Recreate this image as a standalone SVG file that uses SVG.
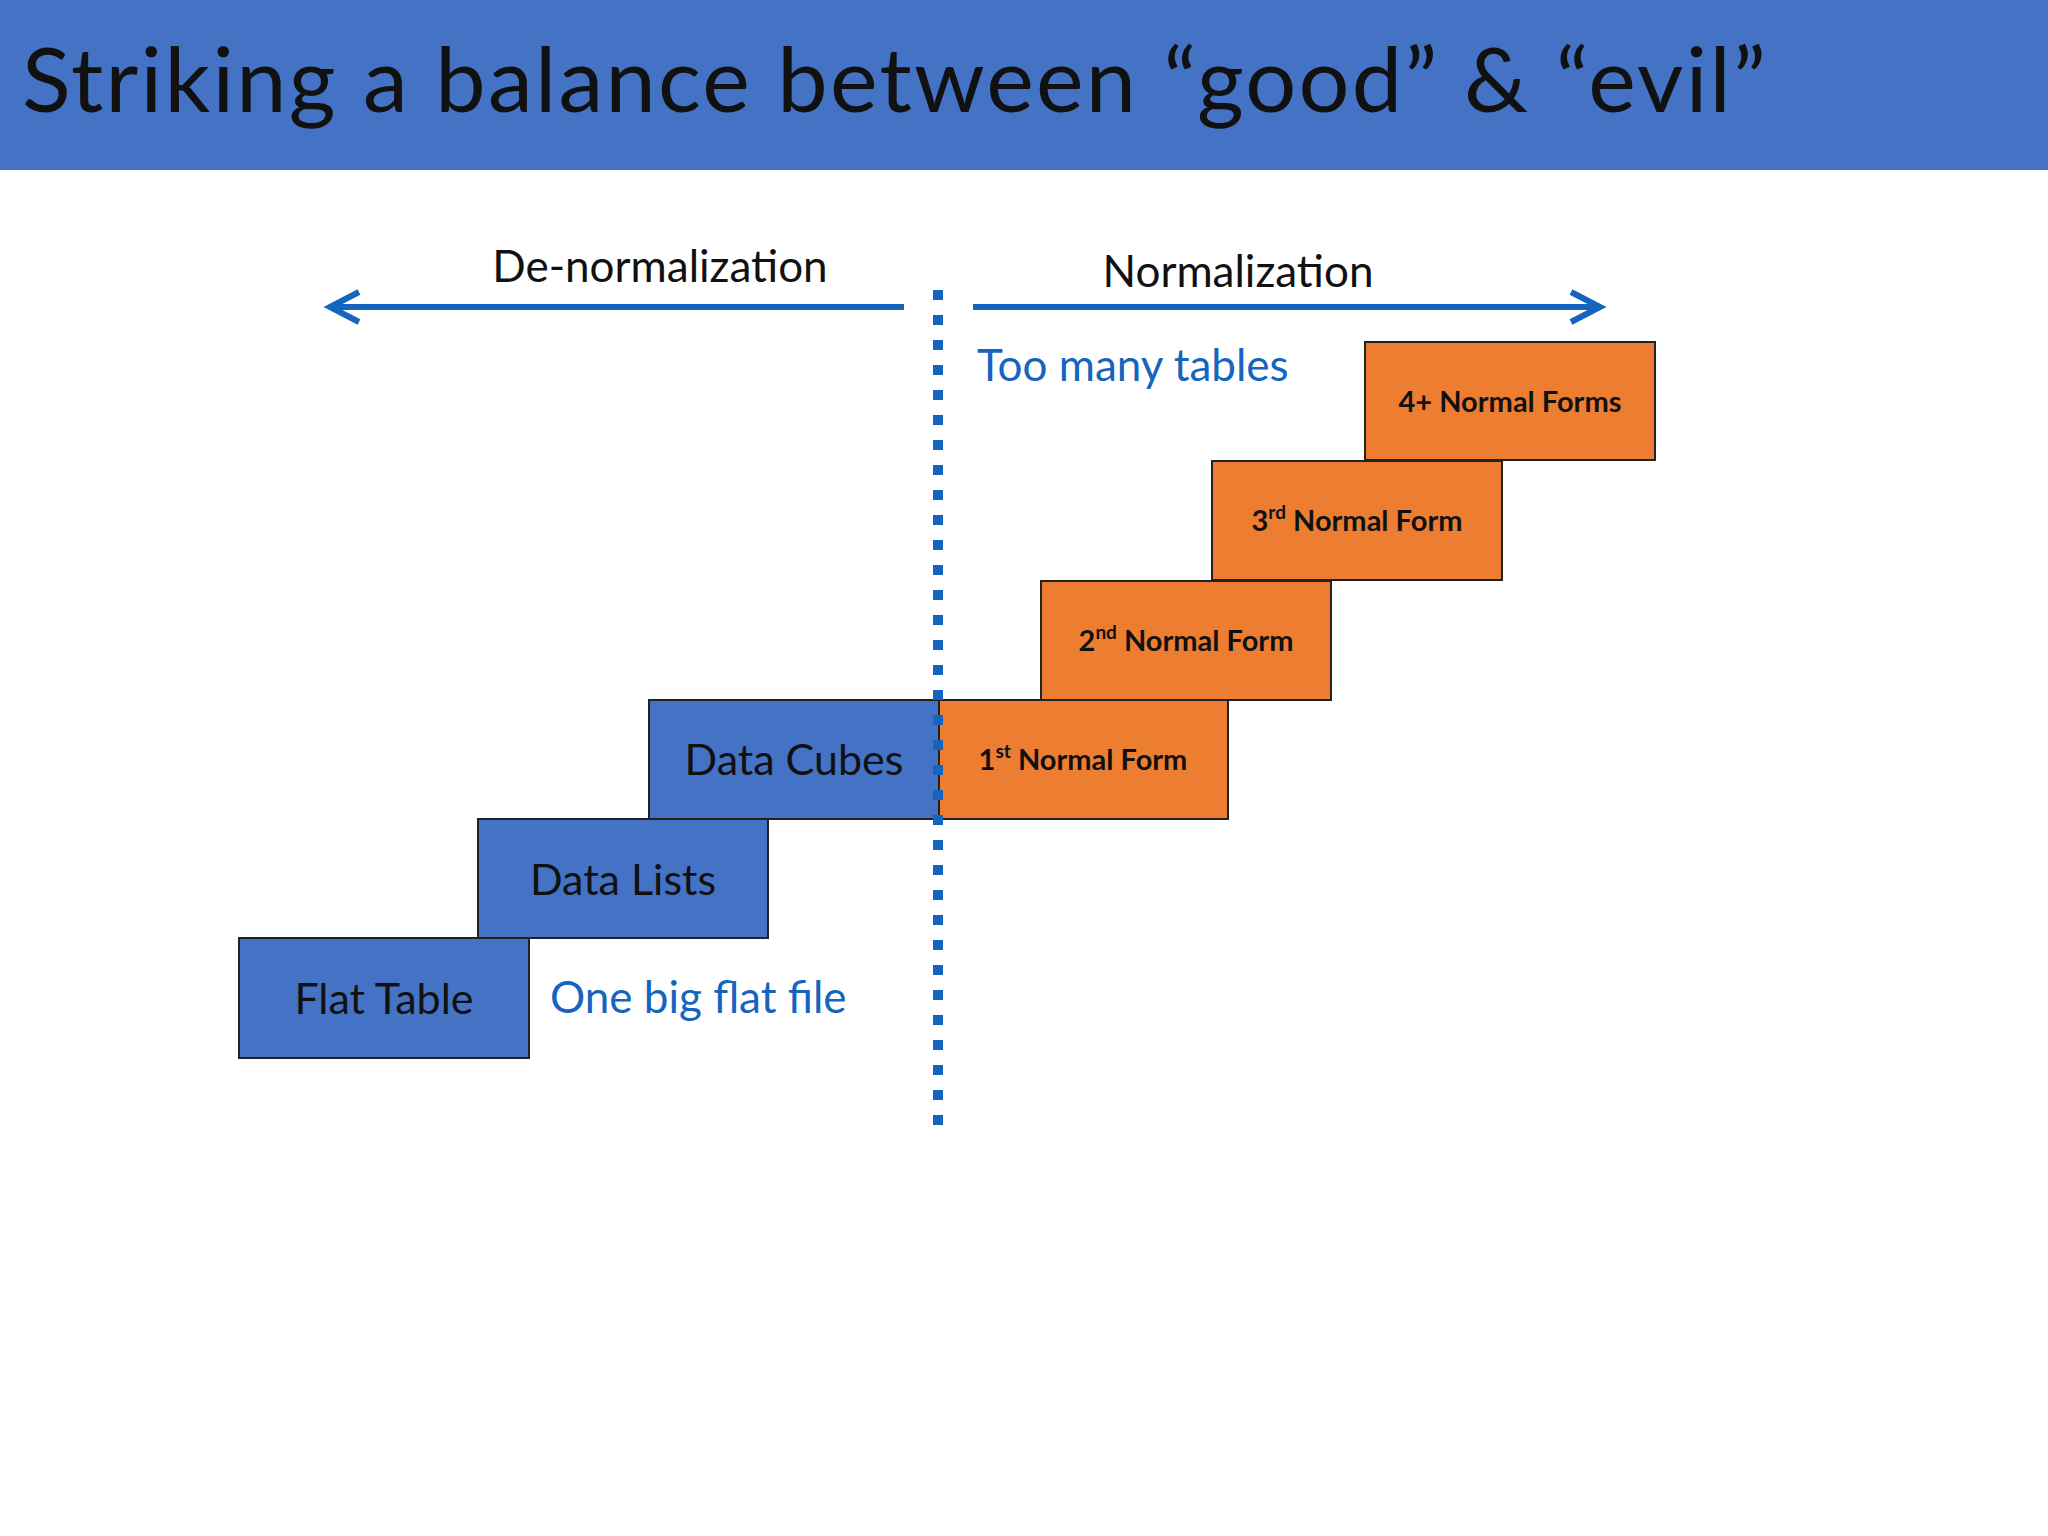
<svg xmlns="http://www.w3.org/2000/svg" width="2048" height="1536" viewBox="0 0 2048 1536">
<style>
text{font-family:Lato,"Open Sans",sans-serif}
.o{fill:#ED7D31;stroke:#222;stroke-width:2}
.b{fill:#4472C4;stroke:#222;stroke-width:2}
.ot{font-size:29px;font-weight:bold;fill:#111;text-anchor:middle}
.bt{font-size:43px;fill:#111;text-anchor:middle}
.lbl{font-size:44px;fill:#111;text-anchor:middle}
.blue{font-size:44px;fill:#1565C0}
</style>
<defs>
<marker id="ah" markerWidth="12" markerHeight="12" refX="9" refY="6" orient="auto" markerUnits="userSpaceOnUse" viewBox="0 0 12 12">
<path d="M1,1 L9,6 L1,11" fill="none" stroke="#1565C0" stroke-width="2.2"/>
</marker>
<marker id="a" markerWidth="40" markerHeight="40" refX="33" refY="20" orient="auto-start-reverse" markerUnits="userSpaceOnUse">
<path d="M4,5 L33,20 L4,35" fill="none" stroke="#1565C0" stroke-width="6"/>
</marker>
</defs>
<rect x="0" y="0" width="2048" height="170" fill="#4472C4"/>
<text x="22" y="112" font-size="90" fill="#111" textLength="1744">Striking a balance between “good” &amp; “evil”</text>
<g id="connectors">
<line x1="330" y1="307" x2="904" y2="307" stroke="#1565C0" stroke-width="6" marker-start="url(#a)"/>
<line x1="973" y1="307" x2="1600" y2="307" stroke="#1565C0" stroke-width="6" marker-end="url(#a)"/>
</g>
<text class="lbl" x="660" y="282">De-normalization</text>
<text class="lbl" x="1238" y="287">Normalization</text>
<text class="blue" x="977" y="381">Too many tables</text>
<text class="blue" x="550" y="1013">One big flat file</text>
<g id="n4"><rect class="o" x="1365" y="342" width="290" height="118"/><text class="ot" x="1510" y="412">4+ Normal Forms</text></g>
<g id="n3"><rect class="o" x="1212" y="461" width="290" height="119"/><text class="ot" x="1357" y="531">3<tspan font-size="19" dy="-12">rd</tspan><tspan dy="12"> Normal Form</tspan></text></g>
<g id="n2"><rect class="o" x="1041" y="581" width="290" height="119"/><text class="ot" x="1186" y="651">2<tspan font-size="19" dy="-12">nd</tspan><tspan dy="12">  Normal Form</tspan></text></g>
<g id="n1"><rect class="o" x="938" y="700" width="290" height="119"/><text class="ot" x="1083" y="770">1<tspan font-size="19" dy="-12">st</tspan><tspan dy="12"> Normal Form</tspan></text></g>
<g id="cubes"><rect class="b" x="649" y="700" width="290" height="119"/><text class="bt" x="794" y="775">Data Cubes</text></g>
<g id="lists"><rect class="b" x="478" y="819" width="290" height="119"/><text class="bt" x="623" y="895">Data Lists</text></g>
<g id="flat"><rect class="b" x="239" y="938" width="290" height="120"/><text class="bt" x="384" y="1014">Flat Table</text></g>
<line x1="938" y1="290" x2="938" y2="1125" stroke="#1565C0" stroke-width="10" stroke-dasharray="10 15"/>
</svg>
